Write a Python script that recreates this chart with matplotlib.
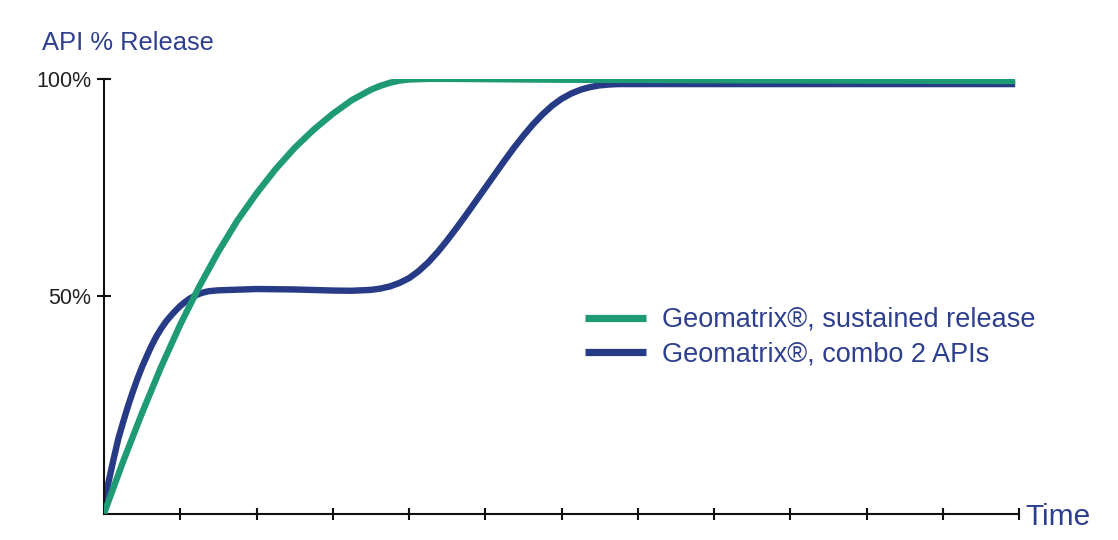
import matplotlib
matplotlib.use("Agg")
import matplotlib.pyplot as plt
from matplotlib.lines import Line2D

plt.rcParams['font.family'] = ['Liberation Sans', 'DejaVu Sans']

# ---- data ----
t_sustained = [0, 0.25, 0.5, 0.75, 1.0, 1.25, 1.5, 1.75, 2.0, 2.25, 2.5, 2.75,
               3.0, 3.25, 3.5, 3.625, 3.75, 3.875, 4.0, 4.25, 4.5, 6.0, 11.95]
v_sustained = [0, 11.95, 23.2, 33.8, 43.5, 52.3, 60.3, 67.5, 73.7, 79.3, 84.2, 88.4,
               92.05, 95.2, 97.6, 98.5, 99.2, 99.7, 99.95, 100.1, 100.1, 99.9, 99.6]

t_combo = [0, 0.0625, 0.125, 0.1875, 0.25, 0.3125, 0.375, 0.4375, 0.5, 0.5625,
           0.625, 0.6875, 0.75, 0.8125, 0.875, 0.9375, 1.0, 1.0625, 1.125,
           1.1875, 1.25, 1.3125, 1.375, 1.5, 1.75, 2.0, 2.5, 3.0, 3.25, 3.5,
           3.625, 3.75, 3.875, 4.0, 4.125, 4.25, 4.375, 4.5, 4.625, 4.75, 4.875,
           5.0, 5.125, 5.25, 5.375, 5.5, 5.625, 5.75, 5.875, 6.0, 6.125, 6.25,
           6.375, 6.5, 6.625, 6.75, 11.95]
v_combo = [2.3, 7.5, 12.5, 17.2, 21.0, 24.6, 27.9, 31.0, 33.8, 36.3,
           38.7, 40.8, 42.6, 44.2, 45.5, 46.7, 47.8, 48.7, 49.5,
           50.1, 50.6, 50.95, 51.2, 51.4, 51.55, 51.7, 51.6, 51.35, 51.3, 51.5,
           51.8, 52.3, 53.1, 54.2, 55.8, 57.8, 60.2, 62.9, 65.8, 68.8, 71.9,
           75.0, 78.1, 81.2, 84.2, 87.0, 89.6, 91.9, 93.9, 95.5, 96.7, 97.6,
           98.2, 98.6, 98.8, 98.9, 98.9]

labels = ["Geomatrix\u00ae, sustained release", "Geomatrix\u00ae, combo 2 APIs"]
y_ticks = [50, 100]
y_ticklabels = ["50%", "100%"]
x_ticks = list(range(1, 13))

GREEN = "#1e9b74"
BLUE = "#263a86"
TEXT_BLUE = "#2f3f90"

W, H = 1118, 540
fig = plt.figure(figsize=(W / 100, H / 100), dpi=100)
ax = fig.add_axes([104 / W, 1 - 513.5 / H, (1019 - 104) / W, (513.5 - 79.3) / H])

ax.plot(t_combo, v_combo, color=BLUE, lw=4.6, solid_capstyle='butt',
        solid_joinstyle='round', zorder=2)
ax.plot(t_sustained, v_sustained, color=GREEN, lw=4.6, solid_capstyle='butt',
        solid_joinstyle='round', zorder=3)

ax.set_xlim(0, 12)
ax.set_ylim(0, 100)
for s in ['top', 'right']:
    ax.spines[s].set_visible(False)
for s in ['left', 'bottom']:
    ax.spines[s].set_linewidth(1.5)
    ax.spines[s].set_color('#111111')

ax.set_xticks(x_ticks)
ax.set_xticklabels([])
ax.set_yticks(y_ticks)
ax.set_yticklabels(y_ticklabels)
ax.tick_params(axis='x', direction='inout', length=9, width=1.5, color='#111111')
ax.tick_params(axis='y', direction='inout', length=10, width=1.5, color='#111111',
               labelsize=15.5, labelcolor='#222222', pad=4)

fig.text(41.7 / W, 1 - 50 / H, "API % Release", color=TEXT_BLUE, fontsize=18.4,
         ha='left', va='baseline')
fig.text(1025.7 / W, 1 - 525 / H, "Time", color=TEXT_BLUE, fontsize=21.5,
         ha='left', va='baseline')

handles = [Line2D([], [], color=GREEN, lw=5.2, solid_capstyle='butt'),
           Line2D([], [], color=BLUE, lw=5.2, solid_capstyle='butt')]
leg = fig.legend(handles, labels, loc='upper left',
                 bbox_to_anchor=(585 / W, 1 - 307 / H),
                 bbox_transform=fig.transFigure, frameon=False, fontsize=19.5,
                 handlelength=2.25, handletextpad=0.6, labelspacing=0.30,
                 borderpad=0, borderaxespad=0)
for txt in leg.get_texts():
    txt.set_color(TEXT_BLUE)

fig.savefig("out.png", dpi=100)
